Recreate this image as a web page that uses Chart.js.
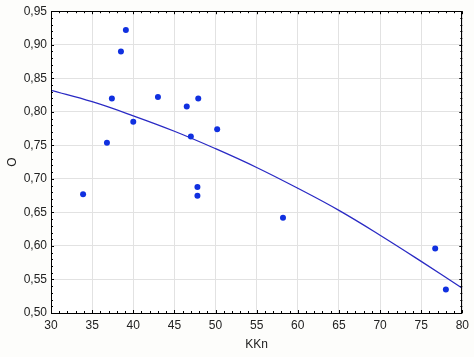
<!DOCTYPE html>
<html><head><meta charset="utf-8">
<script src="https://cdn.jsdelivr.net/npm/chart.js@4.4.1/dist/chart.umd.min.js"></script>
<style>html,body{margin:0;padding:0;background:#fdfdfb;}#wrap{width:474px;height:357px;}</style>
</head><body><div id="wrap"><canvas id="c" width="474" height="357"></canvas></div>
<script>
const kkn = [33.9, 36.8, 37.4, 38.5, 39.1, 40.0, 43.0, 46.5, 47.0, 47.9, 50.2, 47.8, 47.8, 58.2, 76.7, 78.0];
const oVals = [0.677, 0.754, 0.820, 0.890, 0.922, 0.785, 0.822, 0.808, 0.763, 0.820, 0.774, 0.688, 0.675, 0.642, 0.596, 0.535];
const fitX = [30, 35, 40, 45, 50, 55, 60, 65, 70, 75, 80];
const fitY = [0.832, 0.815, 0.794, 0.771, 0.745, 0.717, 0.686, 0.653, 0.616, 0.577, 0.537];
const xTicks = [30, 35, 40, 45, 50, 55, 60, 65, 70, 75, 80];
const yTicks = [0.50, 0.55, 0.60, 0.65, 0.70, 0.75, 0.80, 0.85, 0.90, 0.95];

const pts = kkn.map((x, i) => ({x: x, y: oVals[i]}));
const fit = fitX.map((x, i) => ({x: x, y: fitY[i]}));

const frame = {
  id: 'frame',
  afterDraw(chart) {
    const {ctx, chartArea: a, scales: {x, y}} = chart;
    ctx.save();
    ctx.strokeStyle = '#000';
    ctx.lineWidth = 1;
    ctx.beginPath();
    ctx.rect(Math.round(a.left) + 0.5, Math.round(a.top) + 0.5, Math.round(a.right - a.left) - 1, Math.round(a.bottom - a.top));
    ctx.stroke();
    ctx.beginPath();
    for (let v = x.min; v <= x.max + 1e-9; v += 1) {
      const px = Math.round(x.getPixelForValue(v)) + 0.5;
      const len = (Math.round(v) % 5 === 0) ? 3 : 2;
      ctx.moveTo(px, a.bottom); ctx.lineTo(px, a.bottom - len);
      ctx.moveTo(px, a.top); ctx.lineTo(px, a.top + len);
    }
    for (let k = 50; k <= 95; k += 1) {
      const v = k / 100;
      const py = Math.round(y.getPixelForValue(v)) + 0.5;
      const len = (k % 5 === 0) ? 3 : 2;
      ctx.moveTo(a.left, py); ctx.lineTo(a.left + len, py);
      ctx.moveTo(a.right, py); ctx.lineTo(a.right - len, py);
    }
    ctx.stroke();
    ctx.restore();
  }
};

const bg = {
  id: 'bg',
  beforeDraw(chart) {
    const {ctx, chartArea: a} = chart;
    ctx.save();
    ctx.fillStyle = '#ffffff';
    ctx.fillRect(a.left, a.top, a.right - a.left, a.bottom - a.top);
    ctx.restore();
  }
};

Chart.defaults.font.family = "'Liberation Sans', Arial, sans-serif";
Chart.defaults.font.size = 12;
Chart.defaults.color = '#222';

new Chart(document.getElementById('c'), {
  type: 'scatter',
  data: {
    datasets: [
      {
        label: 'fit', data: fit, showLine: true, pointRadius: 0,
        borderColor: '#2a2ac4', borderWidth: 1.3, tension: 0.4, fill: false, order: 2
      },
      {
        label: 'O', data: pts, pointRadius: 3, pointHoverRadius: 3,
        backgroundColor: '#1030e0', borderColor: '#1030e0', borderWidth: 0, order: 1
      }
    ]
  },
  options: {
    responsive: false, animation: false,
    layout: {padding: {top: 11, right: 11, left: 0, bottom: 0}},
    plugins: {legend: {display: false}, tooltip: {enabled: false}},
    scales: {
      x: {
        type: 'linear', min: 30, max: 80,
        afterBuildTicks(s) { s.ticks = xTicks.map(v => ({value: v})); },
        afterFit(s) { s.height = 44; },
        grid: {color: '#e2e2e2', drawTicks: false, lineWidth: 1},
        border: {display: false},
        ticks: {padding: 5, callback: v => String(v), maxRotation: 0},
        title: {display: true, text: 'KKn', padding: {top: 0, bottom: 5}, font: {size: 12}}
      },
      y: {
        type: 'linear', min: 0.5, max: 0.95,
        afterBuildTicks(s) { s.ticks = yTicks.map(v => ({value: v})); },
        afterFit(s) { s.width = 51; },
        grid: {color: '#e2e2e2', drawTicks: false, lineWidth: 1},
        border: {display: false},
        ticks: {padding: 4, callback: v => v.toFixed(2).replace('.', ',')},
        title: {display: true, text: 'O', padding: {top: 5, bottom: 0}, font: {size: 12}}
      }
    }
  },
  plugins: [bg, frame]
});
</script></body></html>
